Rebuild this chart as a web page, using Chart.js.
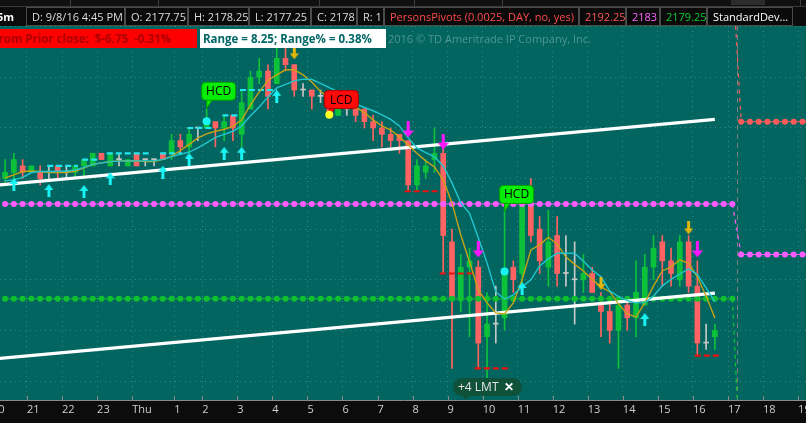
<!DOCTYPE html>
<html><head><meta charset="utf-8">
<script src="https://cdn.jsdelivr.net/npm/chart.js@4.4.1/dist/chart.umd.min.js"></script>
<style>
html,body{margin:0;padding:0;background:#0b0b0b;overflow:hidden}
#wrap{position:relative;width:806px;height:423px;font-family:"Open Sans","Noto Sans",sans-serif;overflow:hidden}
canvas{position:absolute;left:0;top:0}
.top{position:absolute;left:0;top:0;width:806px;height:6px;background:#101010;border-bottom:1px solid #3a3a3a}
.vd{position:absolute;top:0;width:1px;height:6px;background:#3c3c3c}
.box{position:absolute;top:7px;height:19px;line-height:18px;background:#0a0a0a;border:1px solid #4c4c4c;box-sizing:border-box;font-size:11px;color:#dcdcdc;padding-left:5px;white-space:nowrap;overflow:hidden}
.row2{position:absolute;top:29px;height:19px;line-height:19px;font-size:11.5px;font-weight:bold;white-space:nowrap;overflow:hidden}
#lmt{position:absolute;left:453px;top:378px;width:69px;height:18px;border-radius:9px;background:#10513a;color:#e4e4e4;font-size:12px;line-height:18px}
#lmt .tip{position:absolute;left:9px;top:17px;width:0;height:0;border-left:4px solid transparent;border-right:4px solid transparent;border-top:5px solid #10513a}
</style></head>
<body><div id="wrap">
<canvas id="c" width="806" height="423"></canvas>
<div class="top"></div>
<div class="vd" style="left:70px"></div><div class="vd" style="left:158px"></div><div class="vd" style="left:319px"></div>
<div class="vd" style="left:414px"></div><div class="vd" style="left:502px"></div><div class="vd" style="left:800px"></div>
<div style="position:absolute;left:731px;top:0;width:34px;height:5px;background:#2c2c2c"></div>
<div style="position:absolute;left:0;top:7px;width:26px;height:19px;overflow:hidden"><span style="position:absolute;right:12px;top:0;line-height:19px;font-size:11px;font-weight:bold;color:#fff;white-space:nowrap">/ES 15m</span></div>
<div class="box" style="left:26px;width:99px">D: 9/8/16 4:45 PM</div>
<div class="box" style="left:125px;width:63px">O: 2177.75</div>
<div class="box" style="left:188px;width:61px">H: 2178.25</div>
<div class="box" style="left:249px;width:62px">L: 2177.25</div>
<div class="box" style="left:311px;width:46px">C: 2178</div>
<div class="box" style="left:357px;width:27px">R: 1</div>
<div class="box" style="left:384px;width:195px;color:#ff4b4b">PersonsPivots (0.0025, DAY, no, yes)</div>
<div class="box" style="left:579px;width:47px;color:#ff5656">2192.25</div>
<div class="box" style="left:626px;width:34px;color:#ff66ff">2183</div>
<div class="box" style="left:660px;width:47px;color:#10cc30">2179.25</div>
<div class="box" style="left:707px;width:86px;color:#ffffff">StandardDev...</div>
<div class="row2" style="left:0;width:197px;background:#ff0000;color:#b00000"><span style="position:relative;left:-8px">From Prior close:&nbsp; $-6.75&nbsp; -0.31%</span></div>
<div class="row2" style="left:200px;width:186px;background:#ffffff;color:#006666;padding-left:3px;box-sizing:border-box">Range = 8.25; Range% = 0.38%</div>
<div style="position:absolute;left:388px;top:31px;font-size:11px;color:#4f9692;white-space:nowrap">2016 © TD Ameritrade IP Company, Inc.</div>
<div id="lmt"><span style="position:absolute;left:5px">+4 LMT</span><span style="position:absolute;left:51px;font-weight:bold;color:#fff">✕</span><div class="tip"></div></div>
</div>
<script>
// ---------- DATA (15-minute bars, /ES, 9/7-9/8/16) ----------
const FIRST_BAR_X = 81.5;          // time axis in quarter-hours from prior midnight (20:15 bar)
const open  = [2184,2184.25,2184.5,2184.25,2184.25,2184.25,2184.5,2184.25,2184.25,2184.5,2184.5,2185,2184.5,2184.75,2184.5,2185,2184.75,2184.75,2185,2185,2185.5,2185.25,2186,2186,2186.25,2186,2186.5,2185.75,2186.75,2188,2188.25,2187.75,2188.75,2188.5,2187.5,2187.5,2187.25,2186.75,2186.5,2186.75,2186.75,2186.75,2186.25,2186,2185.75,2185.75,2185.5,2183.75,2184.25,2184.75,2185,2181.5,2179.25,2180.5,2180.5,2177.75,2178.25,2178.5,2180.5,2180.25,2183,2182,2180.5,2181.75,2180.25,2180,2180,2180.25,2179,2178.75,2178,2179,2178.5,2179,2180.5,2181.5,2180.75,2180,2181.5,2179.75,2177.5,2177.75];
const high  = [2184.75,2185,2184.75,2184.5,2184.5,2184.5,2184.5,2184.5,2184.5,2184.75,2185,2185,2185,2185,2184.75,2185,2184.75,2184.75,2185,2185.75,2185.75,2186,2186,2186.75,2186.25,2186.5,2186.5,2187.5,2188.25,2188.75,2188.5,2189.25,2189.25,2188.5,2187.75,2187.5,2187.5,2187,2186.75,2187,2187,2186.75,2186.5,2186.25,2186,2185.75,2185.5,2184.75,2184.75,2186,2185.5,2182,2181,2181.25,2180.75,2179.5,2179.75,2182.75,2180.75,2183.25,2184,2182.5,2182.75,2182.5,2181.75,2181.5,2181,2180.5,2179.5,2179.25,2179,2179.25,2180.75,2181,2181.75,2181.75,2181.25,2181.75,2181.75,2180.75,2178.25,2178.25];
const low   = [2183.75,2184,2184,2184.25,2183.75,2184,2184,2184,2184,2184,2184.5,2184.75,2184.5,2184.5,2184.5,2184.5,2184.5,2184.5,2184.75,2184.75,2185,2185,2185.5,2186,2185.25,2185.5,2185.5,2185.25,2186.75,2187.75,2186.75,2187.75,2188.25,2187.25,2187.25,2186.75,2187,2186.5,2186.5,2186.5,2186.25,2186,2185.5,2185.25,2185.25,2185,2183.5,2183.5,2184,2184.25,2180.25,2176.5,2178.75,2177.75,2176.5,2176,2177.5,2178,2179.5,2179.75,2181.5,2180.25,2179.75,2179.75,2179.75,2178.25,2179.5,2179.5,2177.75,2177.5,2176.5,2178,2177.75,2179,2180,2179.75,2179.75,2179.75,2179.5,2177,2177.25,2177.25];
const close = [2184.25,2184.75,2184.25,2184.5,2184,2184.25,2184.25,2184.25,2184.5,2184.75,2185,2184.75,2185,2184.75,2184.75,2184.5,2184.75,2184.75,2184.75,2185.5,2185.25,2185.75,2186,2186.25,2186,2186.25,2186,2187,2188,2188.25,2187.25,2188.75,2188.5,2187.5,2187.5,2187.25,2187.25,2186.5,2186.75,2186.75,2186.5,2186.25,2186,2185.75,2185.5,2185.5,2183.75,2184.5,2184.5,2185,2181.75,2179.25,2180.5,2180.75,2177.5,2178.25,2178.25,2180.25,2180,2183,2181.75,2180.75,2181.5,2180.25,2180.25,2180,2180.25,2179.5,2178.75,2178,2179,2178.5,2179.5,2180.5,2181.25,2180.75,2180.25,2181.5,2179.75,2177.5,2177.5,2178];
// moving averages (gold = fast, cyan = slow)
const maFast = [2184.03,2184.15,2184.28,2184.30,2184.28,2184.24,2184.24,2184.24,2184.29,2184.42,2184.56,2184.62,2184.67,2184.70,2184.71,2184.70,2184.67,2184.67,2184.76,2184.88,2185.11,2185.35,2185.61,2185.77,2185.87,2185.95,2186.06,2186.32,2186.91,2187.43,2187.88,2188.10,2188.30,2188.30,2188.10,2187.82,2187.44,2187.19,2187.00,2186.91,2186.83,2186.60,2186.32,2186.08,2185.92,2185.65,2185.33,2185.00,2184.70,2184.46,2183.95,2183.04,2181.77,2180.71,2179.60,2179.09,2178.69,2178.65,2179.09,2180.00,2181.18,2181.38,2181.68,2181.42,2180.90,2180.61,2180.35,2180.02,2179.72,2179.53,2179.05,2178.65,2178.53,2179.09,2179.76,2180.35,2180.51,2180.79,2180.65,2180.12,2179.36,2178.49];
const maSlow = [2183.91,2183.95,2184.05,2184.24,2184.28,2184.28,2184.29,2184.30,2184.34,2184.44,2184.56,2184.62,2184.67,2184.69,2184.70,2184.70,2184.70,2184.70,2184.76,2184.87,2184.96,2185.05,2185.21,2185.41,2185.63,2185.75,2185.87,2186.08,2186.48,2186.83,2187.23,2187.59,2187.72,2187.86,2187.93,2187.92,2187.76,2187.59,2187.43,2187.31,2186.95,2186.81,2186.68,2186.52,2186.34,2186.08,2185.61,2185.21,2185.03,2184.86,2184.50,2183.83,2183.04,2182.63,2181.66,2180.67,2179.52,2179.24,2179.40,2179.72,2180.00,2180.55,2180.83,2181.05,2181.05,2181.05,2180.73,2180.39,2180.12,2179.56,2179.34,2179.18,2179.09,2179.10,2179.36,2179.76,2180.02,2180.23,2180.43,2180.21,2179.68,2179.13];
// PersonsPivots: [current day, next day]
const pivotR1 = [2192.25, 2186.25];
const pivotPP = [2183, 2181];
const pivotS1 = [2179.25, 2172];
const SESSION_BREAK = 165;
const NEXT_DAY_BARS = 9;
// standard deviation channel: [first bar, last bar]
const channelUpper = [2183.74, 2186.34];
const channelLower = [2176.88, 2179.47];
const channelX = [80.5, 162.5];
// trailing levels [from, to, price]
const cyanLevels = [[86.3,89.8,2184.5],[90.3,92.3,2184.75],[93.1,98.0,2185],[99.2,101.7,2185],[102.3,105.2,2186],[106.3,108.3,2186.5],[108.3,112.5,2187.5]];
const redLevels  = [[127.1,130.9,2183.5],[131.1,134.9,2180.25],[135.1,139.1,2176.5],[160.2,163.1,2177]];
// signals (bar index, price)
const upBars = [1,5,9,12,18,21,25,27,31,59,73];
const upPrices = [2183.77,2183.53,2183.49,2183.99,2184.26,2184.76,2185.0,2185.0,2187.25,2179.66,2178.43];
const downBars = [46,50,54,79];
const downPrices = [2185.94,2185.46,2181.20,2181.20];
const goldBars = [33,68,78];
const goldPrices = [2188.97,2179.86,2182.05];
const cyanDotBars = [23,57];
const cyanDotPrices = [2186.27,2180.33];
const yellowDotBars = [37];
const yellowDotPrices = [2186.52];
const labelTexts = ['HCD','LCD','HCD'];
const labelBars = [23,37,57];
const labelPrices = [2186.78,2186.45,2182.70];
// axis
const hourTickX = [80,84,88,92,96,100.8,104,108,112,116,120,124,128,132,136,140,144,148,152,156,160,164,168,172];
const hourTickLabels = ['20','21','22','23','Thu','1','2','3','4','5','6','7','8','9','10','11','12','13','14','15','16','17','18','19'];
const priceGrid = [2176,2178,2180,2182,2184,2186,2188,2190];

// ---------- build ----------
const bx = i => FIRST_BAR_X + i;
const colOf = i => close[i] > open[i] ? '#0cc23a' : (close[i] < open[i] ? '#ff6262' : '#c8c8c8');
const cols = open.map((_, i) => colOf(i));
const bodies = open.map((o, i) => ({x: bx(i), y: [o, close[i]]}));
const wicks = open.map((o, i) => ({x: bx(i), y: [low[i], high[i]]}));

function pivotSets(vals, color, ord) {
  const left = [], right = [];
  for (let i = 0; i <= SESSION_BREAK - 0.5 - FIRST_BAR_X; i++) left.push({x: bx(i), y: vals[0]});
  for (let k = 0; k < NEXT_DAY_BARS; k++) right.push({x: SESSION_BREAK + 0.5 + k, y: vals[1]});
  const base = {type: 'line', borderColor: color, backgroundColor: color, borderWidth: 1, pointRadius: 3, pointBorderWidth: 0, order: ord};
  return [
    Object.assign({}, base, {data: left}),
    Object.assign({}, base, {data: right}),
    {type: 'line', data: [left[left.length - 1], right[0]], borderColor: color, borderWidth: 1.2, borderDash: [4, 4], pointRadius: 0, order: ord}
  ];
}
function arrowImg(color, w, h, up, head, shaft) {
  const c = document.createElement('canvas'); c.width = w; c.height = h;
  const g = c.getContext('2d'); g.fillStyle = color; g.beginPath();
  const a = (w - shaft) / 2, b = (w + shaft) / 2;
  if (up) { g.moveTo(w/2, 0); g.lineTo(w, head); g.lineTo(b, head); g.lineTo(b, h); g.lineTo(a, h); g.lineTo(a, head); g.lineTo(0, head); }
  else { g.moveTo(w/2, h); g.lineTo(w, h-head); g.lineTo(b, h-head); g.lineTo(b, 0); g.lineTo(a, 0); g.lineTo(a, h-head); g.lineTo(0, h-head); }
  g.closePath(); g.fill(); return c;
}
const pts = (bars, prices) => bars.map((b, i) => ({x: bx(b), y: prices[i]}));
const levelSets = (arr, color) => arr.map(l => ({type: 'line', data: [{x: l[0], y: l[2]}, {x: l[1], y: l[2]}], borderColor: color, borderWidth: 2.2, borderDash: [6, 3], pointRadius: 0, order: 11}));

const maSlowSet = {type: 'line', data: maSlow.map((v, i) => ({x: bx(i), y: v})), borderColor: '#22c6cf', borderWidth: 1.4, pointRadius: 0, order: 9};
const datasets = [
  {type: 'bar', data: wicks, backgroundColor: cols, barThickness: 1, grouped: false, order: 21},
  {type: 'bar', data: bodies, backgroundColor: cols, barThickness: 5, minBarLength: 1, grouped: false, order: 20},
  ...pivotSets(pivotR1, '#ff5a5a', 15),
  ...pivotSets(pivotPP, '#ff5cff', 15),
  ...pivotSets(pivotS1, '#10c030', 15),
  {type: 'line', data: channelX.map((x, i) => ({x, y: channelUpper[i]})), borderColor: '#ffffff', borderWidth: 3.2, pointRadius: 0, order: 12},
  {type: 'line', data: channelX.map((x, i) => ({x, y: channelLower[i]})), borderColor: '#ffffff', borderWidth: 3.2, pointRadius: 0, order: 12},
  ...levelSets(cyanLevels, '#22e6ef'),
  ...levelSets(redLevels, '#ee1111'),
  {type: 'line', data: maFast.map((v, i) => ({x: bx(i), y: v})), borderColor: '#c4a316', borderWidth: 1.4, pointRadius: 0, order: 10},
  maSlowSet,
  {type: 'line', data: pts(upBars, upPrices), showLine: false, pointStyle: arrowImg('#19f3f3', 9, 13, true, 6, 3), pointRadius: 5, order: 5},
  {type: 'line', data: pts(downBars, downPrices), showLine: false, pointStyle: arrowImg('#ff16ff', 11, 16, false, 7, 3), pointRadius: 5, order: 5},
  {type: 'line', data: pts(goldBars, goldPrices), showLine: false, pointStyle: arrowImg('#e4b50c', 9, 13, false, 6, 3), pointRadius: 5, order: 5},
  {type: 'line', data: pts(cyanDotBars, cyanDotPrices), showLine: false, pointRadius: 4, backgroundColor: '#19f3f3', borderWidth: 0, order: 5},
  {type: 'line', data: pts(yellowDotBars, yellowDotPrices), showLine: false, pointRadius: 4, backgroundColor: '#ffff22', borderWidth: 0, order: 5}
];
const LABEL_AFTER = datasets.indexOf(maSlowSet);

const bgPlugin = {
  id: 'bg',
  beforeDraw(chart) {
    const {ctx, chartArea: a} = chart;
    ctx.save(); ctx.fillStyle = '#0c0c0c'; ctx.fillRect(0, 0, chart.width, chart.height);
    ctx.fillStyle = '#02655f'; ctx.fillRect(a.left, a.top, a.right - a.left, a.bottom - a.top); ctx.restore();
  },
  beforeDatasetsDraw(chart) {
    const {ctx, chartArea: a, scales: {x}} = chart;
    const px = Math.round(x.getPixelForValue(SESSION_BREAK)) + 0.5;
    ctx.save(); ctx.strokeStyle = '#7d7d7d'; ctx.lineWidth = 1; ctx.setLineDash([5, 4]);
    ctx.beginPath(); ctx.moveTo(px, a.top); ctx.lineTo(px, a.bottom); ctx.stroke(); ctx.restore();
  },
  afterDatasetDraw(chart, args) {
    if (args.index !== LABEL_AFTER) return;
    const {ctx, scales: {x, y}} = chart;
    ctx.save();
    ctx.font = '12px "Open Sans"';
    labelTexts.forEach((t, i) => {
      const qx = x.getPixelForValue(bx(labelBars[i])), qy = y.getPixelForValue(labelPrices[i]);
      const hcd = t === 'HCD';
      const fill = hcd ? '#06ee06' : '#ff0a0a', stroke = hcd ? '#009c00' : '#b00000';
      const w = 34, h = 18, l = qx - 5, tp = qy - 8 - h;
      ctx.fillStyle = fill; ctx.strokeStyle = stroke; ctx.lineWidth = 1;
      ctx.beginPath(); ctx.moveTo(qx, qy); ctx.lineTo(l + 5, tp + h - 1); ctx.lineTo(l + 11, tp + h - 1); ctx.closePath(); ctx.fill(); ctx.stroke();
      ctx.beginPath(); ctx.roundRect(l, tp, w, h, 4); ctx.fill(); ctx.stroke();
      ctx.fillStyle = '#000'; ctx.textAlign = 'center'; ctx.textBaseline = 'middle';
      ctx.fillText(t, l + w / 2, tp + h / 2 + 0.5);
    });
    ctx.restore();
  },
  afterDatasetsDraw(chart) {
    const {ctx, chartArea: a, scales: {x}} = chart;
    ctx.save();
    ctx.strokeStyle = '#8a8a8a'; ctx.lineWidth = 1;
    x.ticks.forEach(tk => {
      const px = Math.round(x.getPixelForValue(tk.value)) + 0.5;
      ctx.beginPath(); ctx.moveTo(px, a.bottom - 4); ctx.lineTo(px, a.bottom); ctx.stroke();
    });
    ctx.restore();
  }
};

new Chart(document.getElementById('c'), {
  type: 'bar',
  data: {datasets},
  options: {
    responsive: false, animation: false, devicePixelRatio: 1, events: [],
    layout: {autoPadding: false, padding: {top: 26, left: 0, right: 0, bottom: 0}},
    plugins: {legend: {display: false}, tooltip: {enabled: false}},
    scales: {
      x: {
        type: 'linear', offset: false, min: 80.919, max: 172.9,
        afterBuildTicks: s => { s.ticks = hourTickX.map(v => ({value: v})); },
        afterFit: s => { s.height = 23; s.paddingLeft = 0; s.paddingRight = 0; },
        grid: {offset: false, color: 'rgba(170,200,200,0.33)', drawTicks: false},
        border: {display: true, color: '#8a8a8a', width: 1, dash: [1, 4]},
        ticks: {autoSkip: false, maxRotation: 0, align: 'start', padding: 3, color: '#cfcfcf', font: {family: 'Open Sans', size: 11},
          callback: (v, i) => hourTickLabels[i]}
      },
      y: {
        type: 'linear', min: 2175.25, max: 2190.03,
        afterBuildTicks: s => { s.ticks = priceGrid.map(v => ({value: v})); },
        afterFit: s => { s.width = 0; },
        ticks: {display: false},
        grid: {color: 'rgba(170,200,200,0.33)', drawTicks: false},
        border: {display: false, dash: [1, 4]}
      }
    }
  },
  plugins: [bgPlugin]
});
</script>
</body></html>
